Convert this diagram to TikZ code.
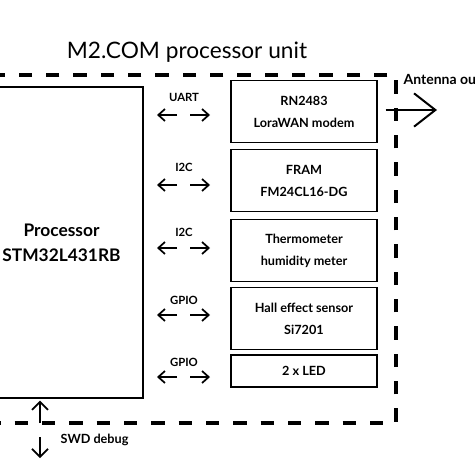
\documentclass[tikz,border=0pt]{standalone}
\usepackage{fontspec}
\setmainfont{Lato}
\usetikzlibrary{positioning,arrows.meta,calc}

\begin{document}
\begin{tikzpicture}[x=0.75pt,y=-0.75pt,
    part/.style={rectangle,draw,line width=1.1pt,minimum width=109.5pt,minimum height=46.5pt,align=center,font=\bfseries\fontsize{9.5}{16.5}\selectfont},
    bus/.style={font=\bfseries\fontsize{8.5}{10}\selectfont,inner sep=1pt},
    sig/.style={-{Straight Barb[length=5pt,width=9pt]},line width=1.3pt},
    frame/.style={line width=2.8pt,dash pattern=on 10pt off 10.5pt}
]
    \useasboundingbox (0,0) rectangle (474,474);

    % outer unit
    \draw[frame] (-20,75) rectangle (396,423);
    \node[font=\fontsize{17}{20}\selectfont] (title) at (187,52) {M2.COM processor unit};

    % processor
    \node[rectangle,draw,line width=1.1pt,minimum width=122pt,minimum height=233pt,align=center,
          font=\bfseries\fontsize{13}{19}\selectfont] (proc) at (61.5,242.5) {Processor\\STM32L431RB};

    % peripherals
    \node[part] (lora) at (304,111.5) {RN2483\\LoraWAN modem};
    \node[part] (fram) at (304,180.5) {FRAM\\FM24CL16-DG};
    \node[part] (therm) at (304,250.5) {Thermometer\\humidity meter};
    \node[part] (hall) at (304,318.5) {Hall effect sensor\\Si7201};
    \node[part,minimum height=24pt] (led) at (304,371) {2 x LED};

    % buses
    \node[bus] (uart) at (184,97) {UART};
    \coordinate (b1) at (184,115);
    \draw[sig] ($(b1)+(-7,0)$) -- ($(b1)+(-27,0)$);
    \draw[sig] ($(b1)+(6,0)$) -- ($(b1)+(26,0)$);

    \node[bus] (itwoa) at (184,167) {I2C};
    \coordinate (b2) at (184,185);
    \draw[sig] ($(b2)+(-7,0)$) -- ($(b2)+(-27,0)$);
    \draw[sig] ($(b2)+(6,0)$) -- ($(b2)+(26,0)$);

    \node[bus] (itwob) at (184,232) {I2C};
    \coordinate (b3) at (184,248);
    \draw[sig] ($(b3)+(-7,0)$) -- ($(b3)+(-27,0)$);
    \draw[sig] ($(b3)+(6,0)$) -- ($(b3)+(26,0)$);

    \node[bus] (gpioa) at (184,300) {GPIO};
    \coordinate (b4) at (184,315);
    \draw[sig] ($(b4)+(-7,0)$) -- ($(b4)+(-27,0)$);
    \draw[sig] ($(b4)+(6,0)$) -- ($(b4)+(26,0)$);

    \node[bus] (gpiob) at (184,362) {GPIO};
    \coordinate (b5) at (184,377);
    \draw[sig] ($(b5)+(-7,0)$) -- ($(b5)+(-27,0)$);
    \draw[sig] ($(b5)+(6,0)$) -- ($(b5)+(26,0)$);

    % antenna
    \node[bus,font=\bfseries\fontsize{10.5}{12}\selectfont,anchor=west] (antlbl) at (402,79) {Antenna out};
    \coordinate (ant) at (437,110);
    \draw[-{Straight Barb[length=16pt,width=25pt]},line width=1.5pt] ($(lora.east)+(8,-1.5)$) -- (ant);

    % debug port
    \coordinate (swdin) at (40,423);
    \coordinate (swdout) at (40,437);
    \draw[-{Straight Barb[length=6pt,width=12pt]},line width=1.3pt] (swdin) -- ($(proc.south -| swdin)+(0,2)$);
    \draw[-{Straight Barb[length=6pt,width=12pt]},line width=1.3pt] (swdout) -- ++(0,21);
    \node[bus,font=\bfseries\fontsize{9.5}{11}\selectfont,anchor=west] (swd) at (59,440) {SWD debug};
\end{tikzpicture}
\end{document}
